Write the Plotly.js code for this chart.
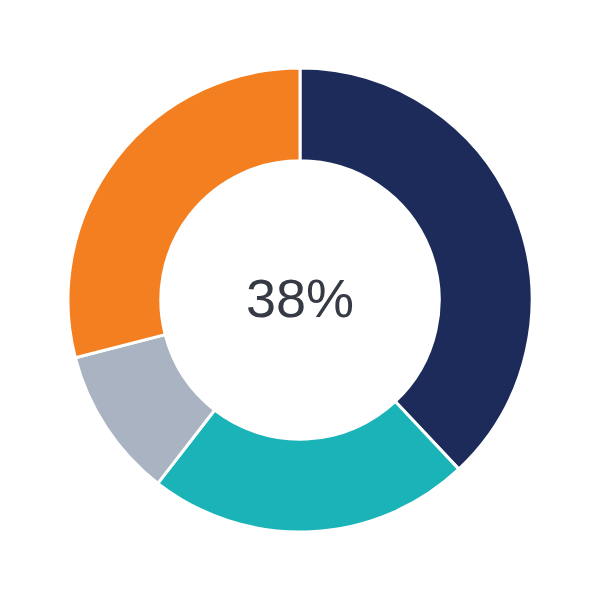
<!DOCTYPE html>
<html>
<head>
<meta charset="utf-8">
<script src="https://cdn.plot.ly/plotly-3.0.1.min.js"></script>
<style>
  html, body { margin: 0; padding: 0; background: #fff; }
  #chart { width: 600px; height: 600px; }
</style>
</head>
<body>
<div id="chart"></div>
<script>
// slice shares, clockwise from 12 o'clock
const labels = ['A', 'B', 'C', 'D'];
const values = [38, 22.5, 10.5, 29];
const colors = ['#1c2b5a', '#1ab3b8', '#a9b3c1', '#f47f20'];
const centerText = '38%';

const data = [{
    type: 'pie',
    labels: labels,
    values: values,
    hole: 0.6,
    sort: false,
    direction: 'clockwise',
    rotation: 0,
    textinfo: 'none',
    hoverinfo: 'none',
    marker: {
        colors: colors,
        line: { color: '#ffffff', width: 3 }
    }
}];

const layout = {
    width: 600,
    height: 600,
    margin: { l: 68, r: 68, t: 68, b: 68 },
    showlegend: false,
    paper_bgcolor: '#ffffff',
    annotations: [{
        text: centerText,
        x: 0.5,
        y: 0.505,
        xref: 'paper',
        yref: 'paper',
        showarrow: false,
        font: { family: 'Liberation Sans, Arial, sans-serif', size: 54, color: '#363a45' }
    }]
};

Plotly.newPlot('chart', data, layout, { staticPlot: true });
</script>
</body>
</html>
